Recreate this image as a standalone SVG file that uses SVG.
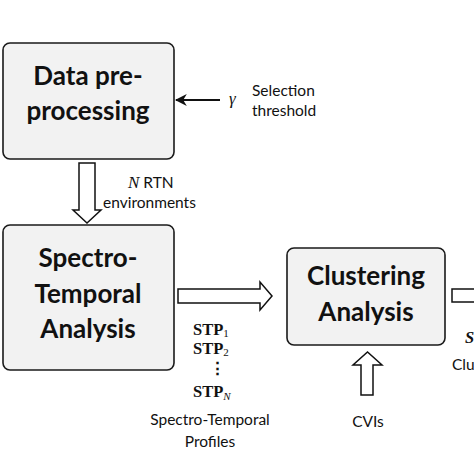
<svg xmlns="http://www.w3.org/2000/svg" width="474" height="474" viewBox="0 0 474 474">
<defs>
<style>
.box{fill:#f2f2f2;stroke:#1a1a1a;stroke-width:1.6}
.title{font-family:Lato,"Liberation Sans",sans-serif;font-weight:bold;font-size:26px;fill:#111;text-anchor:middle}
.lbl{font-family:Lato,"Liberation Sans",sans-serif;font-size:15.5px;fill:#111}
.math{font-family:"Liberation Serif","DejaVu Serif",serif;font-size:17px;fill:#111}
.stp{font-family:"Liberation Serif","DejaVu Serif",serif;font-weight:bold;font-size:16.5px;fill:#111}
.sub{font-size:11px;font-weight:normal}
.blk{fill:#fff;stroke:#111;stroke-width:1.5;stroke-linejoin:miter}
</style>
<marker id="ah" viewBox="0 0 10 10" refX="9" refY="5" markerWidth="12" markerHeight="12" markerUnits="userSpaceOnUse" orient="auto">
<path d="M0,0 L10,5 L0,10 L3,5 Z" fill="#111"/>
</marker>
</defs>

<g id="node-preprocessing">
<rect class="box" x="3" y="43" width="171" height="116" rx="7"/>
<text class="title" x="88" y="85">Data pre-</text>
<text class="title" x="88" y="120">processing</text>
</g>

<g id="node-spectro">
<rect class="box" x="3" y="225" width="171" height="145" rx="7"/>
<text class="title" x="88" y="267">Spectro-</text>
<text class="title" x="88" y="303">Temporal</text>
<text class="title" x="88" y="338">Analysis</text>
</g>

<g id="node-clustering">
<rect class="box" x="287" y="248" width="158" height="97" rx="7"/>
<text class="title" x="366" y="285">Clustering</text>
<text class="title" x="366" y="321">Analysis</text>
</g>

<g id="connectors">
<line x1="220" y1="100" x2="176" y2="100" stroke="#111" stroke-width="2" marker-end="url(#ah)"/>
<path class="blk" d="M79,163 H95 V210 H101 L87,223 L73,210 H79 Z"/>
<path class="blk" d="M178,289 H260 V282 L272,296 L260,310 V303 H178 Z"/>
<path class="blk" d="M361,395 V365 H353 L367.5,352 L382,365 H373 V395 Z"/>
<path class="blk" d="M452,289 H480 V302 H452 Z"/>
</g>

<g id="labels">
<text class="math" x="229" y="104" font-style="italic">γ</text>
<text class="lbl" x="252" y="96">Selection</text>
<text class="lbl" x="252" y="116">threshold</text>
<text class="lbl" x="128" y="188"><tspan class="math" font-style="italic">N</tspan> RTN</text>
<text class="lbl" x="103" y="208">environments</text>
<text class="stp" x="193" y="335">STP<tspan class="sub" dy="2">1</tspan></text>
<text class="stp" x="193" y="354">STP<tspan class="sub" dy="2">2</tspan></text>
<text class="stp" x="209" y="374" font-weight="normal">⋮</text>
<text class="stp" x="193" y="397">STP<tspan class="sub" font-style="italic" dy="3">N</tspan></text>
<text class="lbl" x="210" y="425" text-anchor="middle">Spectro-Temporal</text>
<text class="lbl" x="210" y="447" text-anchor="middle">Profiles</text>
<text class="lbl" x="368" y="427" text-anchor="middle">CVIs</text>
<text class="stp" x="465" y="343" font-style="italic">S</text>
<text class="lbl" x="452" y="370">Clusters</text>
</g>
</svg>
